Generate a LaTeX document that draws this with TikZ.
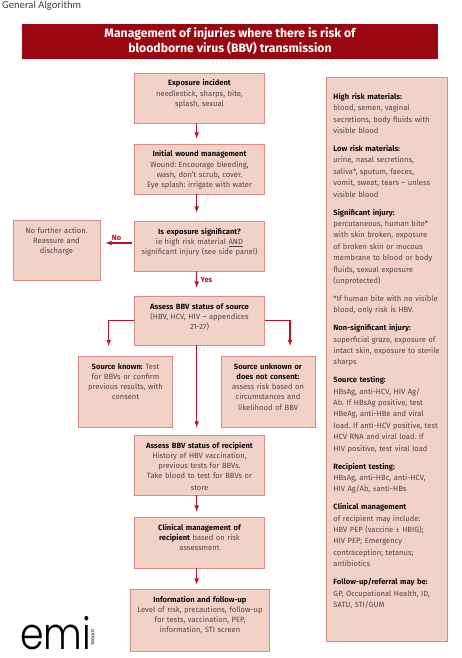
\documentclass[tikz,border=0pt]{standalone}
\usepackage{fontspec}
\setmainfont{Fira Sans}
\newfontfamily\notefont{Carlito}
\newfontfamily\logofont{Poppins Light}
\definecolor{bannerred}{HTML}{9B0710}
\definecolor{boxfill}{HTML}{F2D1C7}
\definecolor{boxline}{HTML}{D98C8A}
\definecolor{arrowred}{HTML}{B2162A}
\definecolor{bodygrey}{HTML}{524646}
\tikzset{
  flowbox/.style={draw=boxline, fill=boxfill, line width=0.9pt, align=center, text=bodygrey, font=\frenchspacing\fontsize{7.6}{10.3}\selectfont, inner xsep=2pt, inner ysep=5pt, text height=8pt},
  flowarrow/.style={draw=arrowred, line width=1.1pt, -latex, shorten >=5pt},
  armlabel/.style={text=arrowred, font=\bfseries\fontsize{7.5}{9}\selectfont, inner sep=0pt}
}
\newcommand{\hd}[1]{{\color{black!80!bodygrey}\bfseries #1}}
\begin{document}
\begin{tikzpicture}[x=1pt,y=-1pt]
\useasboundingbox (0,0) rectangle (462,658);
\fill[white] (0,0) rectangle (462,658);
\node[font=\notefont\fontsize{10.6}{12}\selectfont, text=black!75, anchor=west, inner sep=0pt] (pagetitle) at (2,6) {General Algorithm};
\node[fill=bannerred, text=white, align=center, font=\bfseries\fontsize{12.2}{15}\selectfont, minimum width=416pt, minimum height=35pt, inner sep=0pt] (banner) at (230,41.5) {Management of injuries where there is risk of\\bloodborne virus (BBV) transmission};
% main column
\node[flowbox, text width=126pt, text depth=32pt] (exposure) at (199.5,98) {\hd{Exposure incident}\\needlestick, sharps, bite,\\splash, sexual};
\node[flowbox, text width=126pt, text depth=32pt] (initial) at (199.5,169) {\hd{Initial wound management}\\Wound: Encourage bleeding,\\wash, don't scrub, cover.\\Eye splash: irrigate with water};
\node[flowbox, text width=126pt, text depth=32pt] (significant) at (199.5,246) {\hd{Is exposure significant?}\\ie high risk material \underline{AND}\\significant injury (see side panel)};
\node[flowbox, text width=83pt, text depth=42pt] (nofurther) at (56.5,250) {No further action.\\Reassure and\\discharge};
\node[flowbox, text width=126pt, text depth=31pt] (source) at (199.5,320.5) {\hd{Assess BBV status of source}\\(HBV, HCV, HIV -- appendices\\21-27)};
\node[flowbox, text width=90pt, text depth=53pt] (known) at (125.5,391.5) {\hd{Source known:} Test\\for BBVs or confirm\\previous results, with\\consent};
\node[flowbox, text width=90pt, text depth=53pt] (unknown) at (268,391.5) {\hd{Source unknown or}\\\hd{does not consent:}\\assess risk based on\\circumstances and\\likelihood of BBV};
\node[flowbox, text width=126pt, text depth=42pt] (recipient) at (199.5,465) {\hd{Assess BBV status of recipient}\\History of HBV vaccination,\\previous tests for BBVs.\\Take blood to test for BBVs or\\[1.5pt]store};
\node[flowbox, text width=126pt, text depth=33pt] (clinical) at (199.5,542.5) {\hd{Clinical management of}\\\hd{recipient} based on risk\\assessment};
\node[flowbox, text width=135pt, text depth=44pt] (followup) at (200,620) {\hd{Information and follow-up}\\Level of risk, precautions, follow-up\\for tests, vaccination, PEP,\\information, STI screen};
% side panel
\node[flowbox, anchor=north west, align=left, text width=107pt, inner xsep=7pt, inner ysep=0pt, text height=22pt, text depth=542pt, font=\frenchspacing\fontsize{7.6}{11.4}\selectfont] (panel) at (326,77) {%
\hd{High risk materials:}\\blood, semen, vaginal\\secretions, body fluids with\\visible blood\\[6.5pt]
\hd{Low risk materials:}\\urine, nasal secretions,\\saliva*, sputum, faeces,\\vomit, sweat, tears -- unless\\visible blood\\[6.5pt]
\hd{Significant injury:}\\percutaneous, human bite*\\with skin broken, exposure\\of broken skin or mucous\\membrane to blood or body\\fluids, sexual exposure\\(unprotected)\\[6.5pt]
*If human bite with no visible\\blood, only risk is HBV.\\[6.5pt]
\hd{Non-significant injury:}\\superficial graze, exposure of\\intact skin, exposure to sterile\\sharps\\[6.5pt]
\hd{Source testing:}\\HBsAg, anti-HCV, HIV Ag/\\Ab. If HBsAg positive, test\\HBeAg, anti-HBe and viral\\load. If anti-HCV positive, test\\HCV RNA and viral load. If\\HIV positive, test viral load\\[6.5pt]
\hd{Recipient testing:}\\HBsAg, anti-HBc, anti-HCV,\\HIV Ag/Ab, ±anti-HBs\\[6.5pt]
\hd{Clinical management}\\of recipient may include:\\HBV PEP (vaccine ± HBIG);\\HIV PEP; Emergency\\contraception; tetanus;\\antibiotics\\[6.5pt]
\hd{Follow-up/referral may be:}\\GP, Occupational Health, ID,\\SATU, STI/GUM};
% logo
\node[font=\logofont\fontsize{44}{44}\selectfont, text=black, inner sep=0pt, anchor=base west, xscale=0.86] (logo) at (20,649.5) {emi};
\node[font=\bfseries\fontsize{4.2}{5}\selectfont, text=black!70, rotate=90, inner sep=0pt] (toolkit) at (93,637) {TOOLKIT};
% connectors
\coordinate (spine) at (196.7,0);
\coordinate (noarm) at (0,243);
\coordinate (knownarm) at (108.7,351);
\coordinate (unknownarm) at (290,351);
\draw[flowarrow] (exposure.south -| spine) -- (initial.north -| spine);
\draw[flowarrow, shorten >=8pt] (initial.south -| spine) -- (significant.north -| spine);
\draw[flowarrow, shorten >=8pt] (significant.south -| spine) -- (source.north -| spine);
\draw[flowarrow, shorten <=2pt] (significant.west |- noarm) -- (nofurther.east |- noarm);
\draw[flowarrow] (source.west) -| (knownarm);
\draw[flowarrow] (source.east) -| (unknownarm);
\draw[flowarrow, shorten >=7pt] (source.south -| spine) -- (recipient.north -| spine);
\draw[flowarrow] (recipient.south -| spine) -- (clinical.north -| spine);
\draw[flowarrow, shorten >=4pt] (clinical.south -| spine) -- (followup.north -| spine);
\node[armlabel] (nolabel) at (116.5,237.5) {No};
\node[armlabel] (yeslabel) at (206.5,280) {Yes};
\end{tikzpicture}
\end{document}
